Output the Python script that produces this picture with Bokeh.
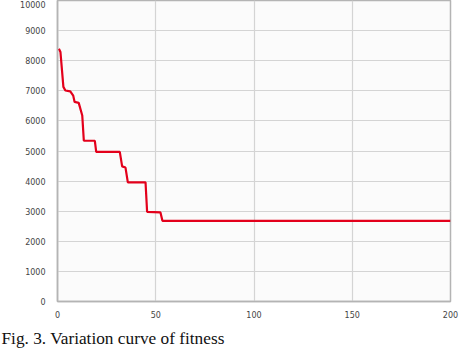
from bokeh.plotting import figure
from bokeh.models import Title, FixedTicker, Range1d
from bokeh.embed import file_html
from bokeh.resources import INLINE

generation = [0.7, 1.5, 3, 4, 6.5, 8, 8.7, 10.8, 12.6, 13.4, 19, 19.7, 31.7, 32.9, 34.6,
              35.8, 44.8, 45.6, 52.4, 53.4, 200]
fitness = [8400, 8290, 7130, 7010, 6980, 6840, 6630, 6600, 6180, 5340, 5340, 4970, 4970,
           4490, 4450, 3960, 3960, 2980, 2960, 2680, 2680]
x_ticks = [0, 50, 100, 150, 200]
y_ticks = [0, 1000, 2000, 3000, 4000, 5000, 6000, 7000, 8000, 9000, 10000]
caption = "Fig. 3. Variation curve of fitness"

p = figure(width=474, height=353, output_backend="svg", toolbar_location=None,
           x_range=Range1d(0, 200), y_range=Range1d(0, 10000),
           min_border_left=57, min_border_right=24, min_border_top=0, min_border_bottom=51)
p.background_fill_color = "#fbfbfb"
p.border_fill_color = "#ffffff"
p.outline_line_color = "#b4b4b4"
p.outline_line_width = 1.5

p.line(generation, fitness, line_color="#e3001b", line_width=2.2)

for ax in (p.xaxis[0], p.yaxis[0]):
    ax.axis_line_color = "#b4b4b4"
    ax.axis_line_width = 1.5
    ax.major_tick_line_color = None
    ax.minor_tick_line_color = None
    ax.major_label_text_font = "DejaVu Sans"
    ax.major_label_text_font_size = "8px"
    ax.major_label_text_color = "#444444"
p.xaxis.ticker = FixedTicker(ticks=x_ticks)
p.yaxis.ticker = FixedTicker(ticks=y_ticks)
p.xaxis.major_label_standoff = 3
p.yaxis.major_label_standoff = 6
p.xgrid.ticker = FixedTicker(ticks=x_ticks)
p.ygrid.ticker = FixedTicker(ticks=y_ticks)
p.grid.grid_line_color = "#d4d4d4"
p.grid.grid_line_width = 1.2

t = Title(text=caption, align="left", text_font="'Liberation Serif', 'Times New Roman', serif",
          text_font_size="17.3px", text_font_style="normal", text_color="#111111",
          offset=-56, standoff=12)
p.add_layout(t, "below")

open("out.html", "w").write(file_html(p, INLINE))
